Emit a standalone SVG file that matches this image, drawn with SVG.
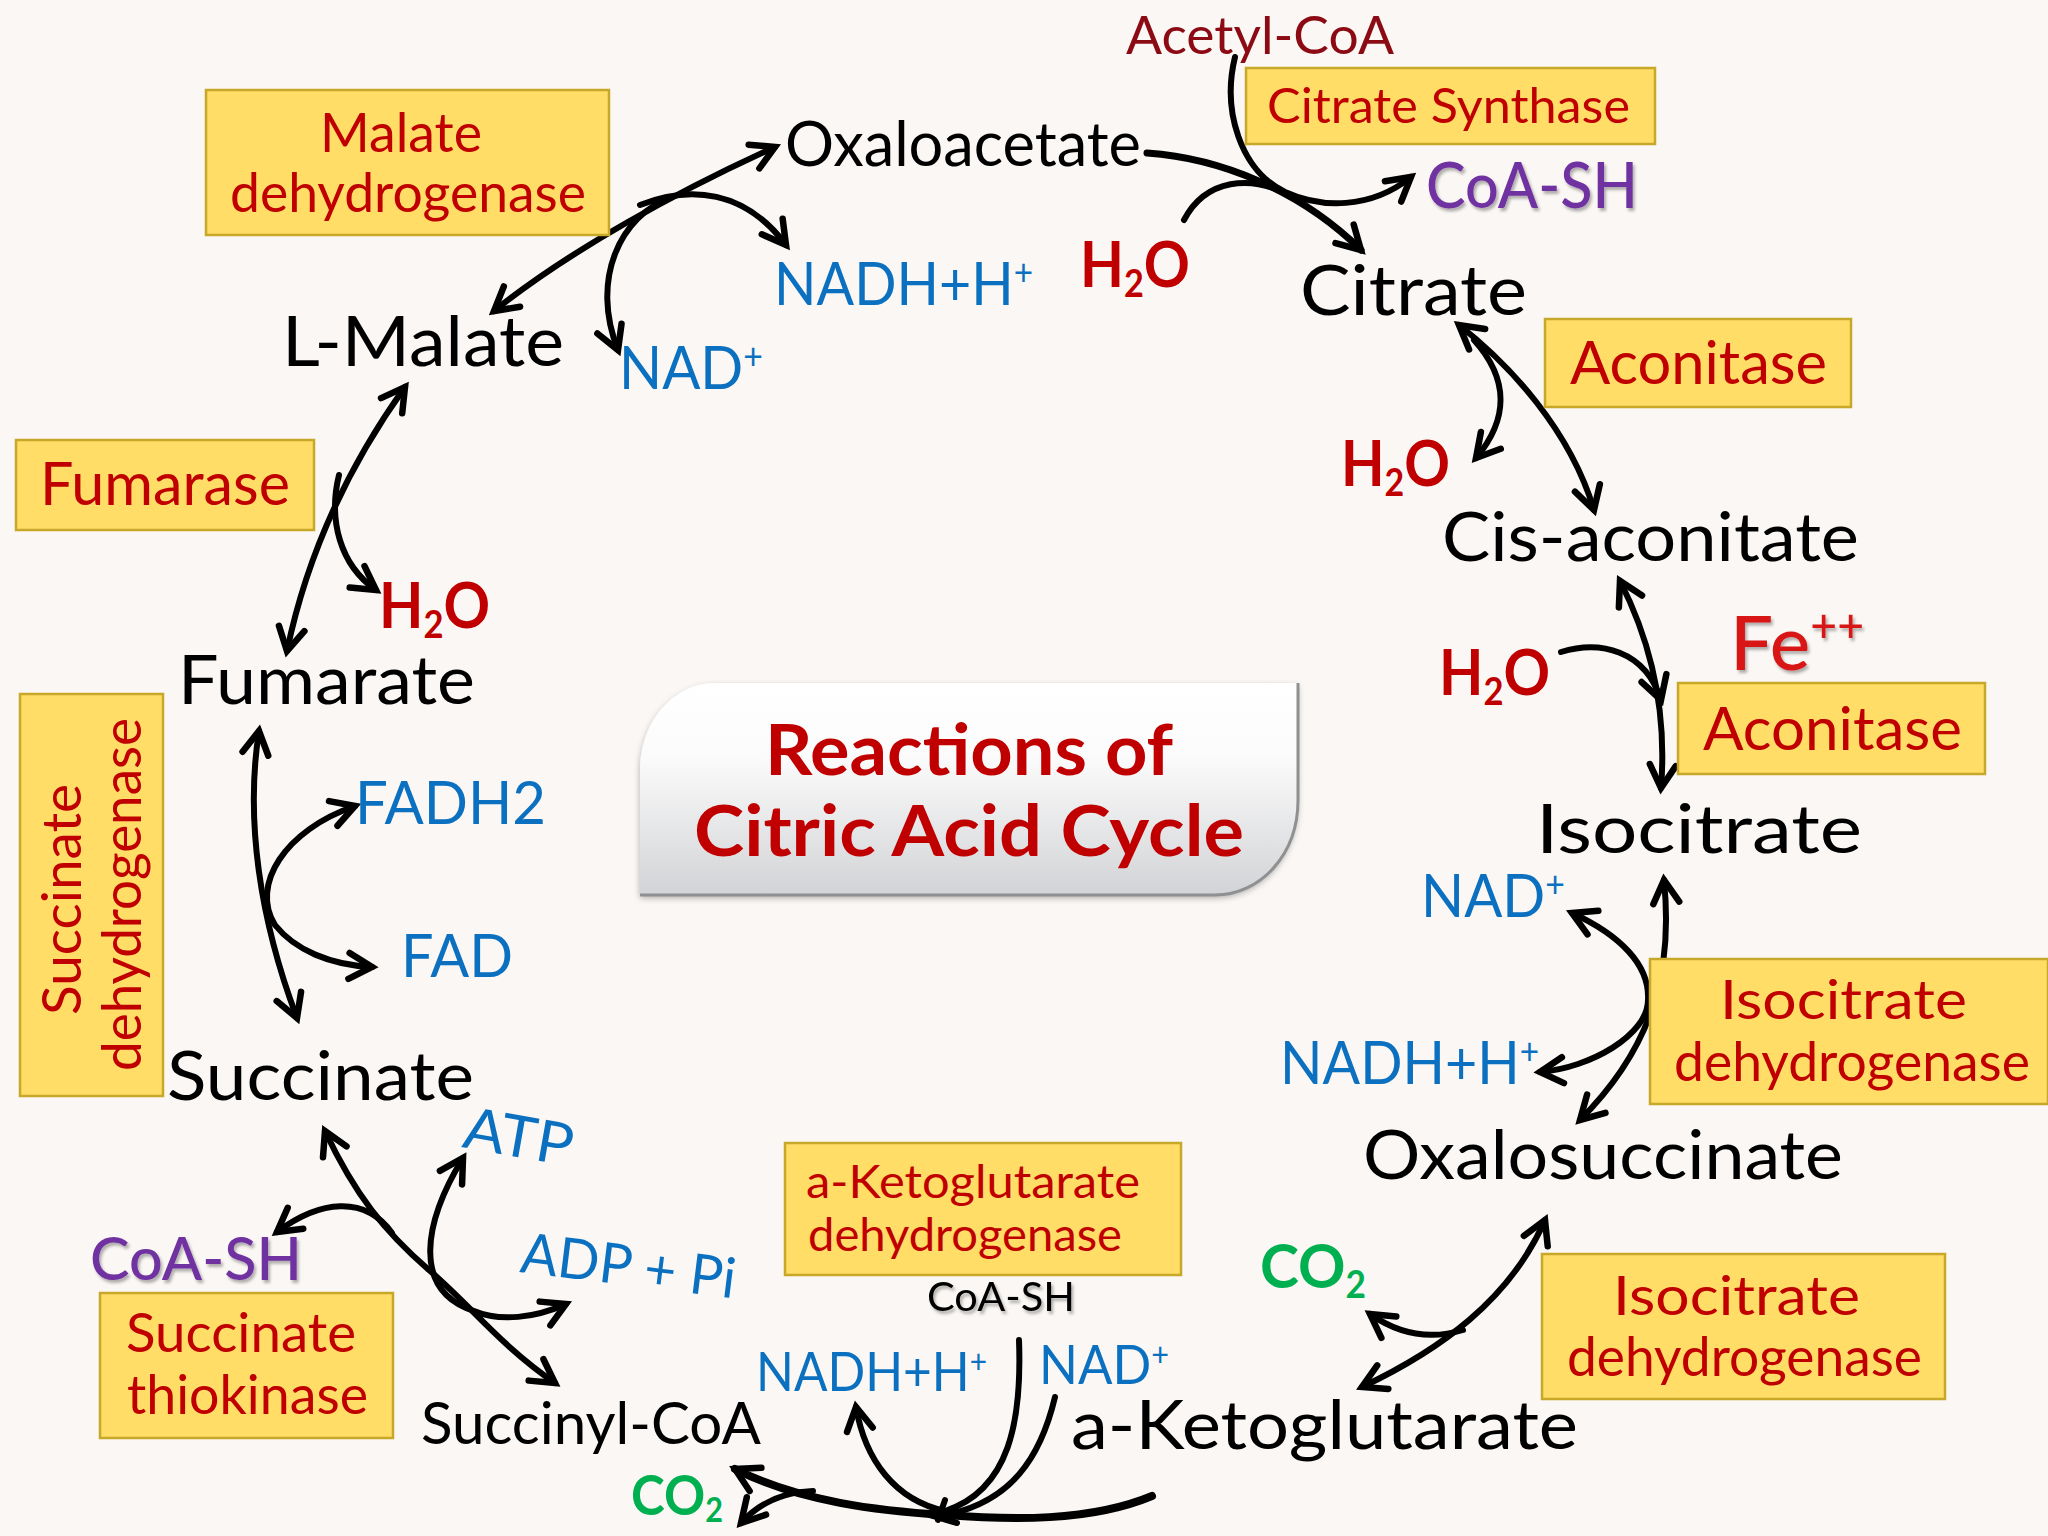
<svg xmlns="http://www.w3.org/2000/svg" width="2048" height="1536" viewBox="0 0 2048 1536">
<style>
text{font-family:"Lato","Noto Sans",sans-serif;white-space:pre}
.box{fill:#ffdd66;stroke:#c8a828;stroke-width:2.5}
.c{fill:none;stroke:#000;stroke-width:6;stroke-linecap:round;marker-end:url(#a)}
.both{marker-start:url(#s)}
.plain{marker-end:none}
.thick{stroke-width:8}
.k{fill:#000}.r{fill:#c00000}.b{fill:#0b70c0}.p{fill:#7030a0;filter:url(#ts)}.g{fill:#00b050;font-weight:700}.d{fill:#8b0a14}
.rb{fill:#c00000;font-weight:700}
.sm{font-size:.6em}
</style>
<defs>
<marker id="a" markerUnits="userSpaceOnUse" markerWidth="40" markerHeight="40" refX="30" refY="20" orient="auto"><path d="M7,7 L30,20 L7,33" fill="none" stroke="#000" stroke-width="6.5" stroke-linecap="round"/></marker>
<marker id="s" markerUnits="userSpaceOnUse" markerWidth="40" markerHeight="40" refX="10" refY="20" orient="auto"><path d="M33,7 L10,20 L33,33" fill="none" stroke="#000" stroke-width="6.5" stroke-linecap="round"/></marker>
<linearGradient id="tg" x1="0" y1="0" x2="0" y2="1"><stop offset="0" stop-color="#ffffff"/><stop offset=".35" stop-color="#fbfbfb"/><stop offset="1" stop-color="#d2d3d6"/></linearGradient>
<filter id="ts" x="-10%" y="-20%" width="120%" height="140%"><feDropShadow dx="2" dy="3" stdDeviation="1.5" flood-color="#000" flood-opacity=".3"/></filter>
<filter id="ps" x="-5%" y="-5%" width="110%" height="115%"><feDropShadow dx="0" dy="3" stdDeviation="3" flood-color="#000" flood-opacity=".3"/></filter>
</defs>
<rect id="background" width="2048" height="1536" fill="#faf7f4"/>

<g id="connectors">
<path class="c both" d="M494,311 C570,250 680,190 775,147"/>
<path class="c" d="M640,205 C690,185 745,190 786,245"/>
<path class="c" d="M672,197 C620,215 590,280 618,350"/>
<path class="c" style="stroke-width:7" d="M1147,153 C1220,158 1300,190 1361,250"/>
<path class="c" d="M1235,57 C1222,110 1240,170 1285,192 C1320,208 1370,210 1411,177"/>
<path class="c plain" d="M1184,220 C1205,180 1250,172 1295,198"/>
<path class="c both" d="M1459,325 C1510,365 1570,430 1594,510"/>
<path class="c" d="M1474,340 C1510,380 1508,420 1476,458"/>
<path class="c both" d="M1620,581 C1645,630 1668,700 1661,788"/>
<path class="c" d="M1561,652 C1600,640 1645,650 1661,700"/>
<path class="c both" d="M1664,880 C1672,960 1660,1040 1580,1120"/>
<path class="c both" d="M1572,913 C1620,935 1650,965 1648,1000 C1648,1035 1590,1068 1540,1072"/>
<path class="c both" d="M1545,1220 C1510,1300 1440,1350 1362,1387"/>
<path class="c" d="M1463,1330 C1430,1340 1400,1335 1370,1314"/>
<path class="c thick" d="M1152,1496 C1090,1522 1010,1520 945,1515 C880,1511 800,1502 735,1469"/>
<path class="c" d="M945,1511 C895,1500 865,1460 856,1407"/>
<path class="c plain" d="M1019,1340 C1022,1420 1010,1490 945,1511"/>
<path class="c plain" d="M1055,1397 C1040,1460 1010,1500 950,1514"/>
<path class="c plain" d="M930,1515 L957,1523 M945,1500 L938,1520"/>
<path class="c" d="M813,1491 C785,1492 760,1502 741,1523"/>
<path class="c both" d="M325,1131 C355,1195 385,1232 429,1270 S500,1345 555,1383"/>
<path class="c" d="M392,1233 C365,1195 320,1200 277,1232"/>
<path class="c both" d="M463,1158 C425,1220 410,1290 474,1311 C500,1322 535,1318 566,1304"/>
<path class="c both" d="M259,731 C245,820 260,920 297,1018"/>
<path class="c both" d="M355,806 C285,830 250,885 275,925 C295,950 330,965 372,967"/>
<path class="c both" d="M405,387 C360,450 310,540 287,651"/>
<path class="c" d="M339,475 C328,520 340,565 376,590"/>
</g>

<g id="title">
<path d="M640,895 L640,770 C640,720 675,683 715,683 L1298,683 L1298,800 C1298,855 1260,895 1215,895 Z" fill="url(#tg)" filter="url(#ps)"/>
<path d="M1298,683 L1298,800 C1298,855 1260,895 1215,895 L640,895" fill="none" stroke="#8f9092" stroke-width="3"/>
<text class="r" x="765" y="775" font-size="70" font-weight="700" textLength="408" lengthAdjust="spacingAndGlyphs">Reactions of</text>
<text class="r" x="694" y="856" font-size="70" font-weight="700" textLength="550" lengthAdjust="spacingAndGlyphs">Citric Acid Cycle</text>
</g>

<g id="enzyme-malate-dehydrogenase"><rect class="box" x="206" y="90" width="403" height="145"/>
<text class="r" x="320" y="152" font-size="54" textLength="162" lengthAdjust="spacingAndGlyphs">Malate</text>
<text class="r" x="230" y="212" font-size="54" textLength="356" lengthAdjust="spacingAndGlyphs">dehydrogenase</text></g>
<g id="enzyme-citrate-synthase"><rect class="box" x="1246" y="68" width="409" height="76"/>
<text class="r" x="1267" y="123" font-size="48" textLength="363" lengthAdjust="spacingAndGlyphs">Citrate Synthase</text></g>
<g id="enzyme-aconitase-1"><rect class="box" x="1545" y="319" width="306" height="88"/>
<text class="r" x="1570" y="384" font-size="60" textLength="257" lengthAdjust="spacingAndGlyphs">Aconitase</text></g>
<g id="enzyme-fumarase"><rect class="box" x="16" y="440" width="298" height="90"/>
<text class="r" x="40" y="505" font-size="60" textLength="250" lengthAdjust="spacingAndGlyphs">Fumarase</text></g>
<g id="enzyme-aconitase-2"><rect class="box" x="1678" y="683" width="307" height="91"/>
<text class="r" x="1703" y="750" font-size="60" textLength="259" lengthAdjust="spacingAndGlyphs">Aconitase</text></g>
<g id="enzyme-succinate-dehydrogenase"><rect class="box" x="20" y="694" width="143" height="402"/>
<text class="r" transform="translate(81,1015) rotate(-90)" font-size="54" textLength="231" lengthAdjust="spacingAndGlyphs">Succinate</text>
<text class="r" transform="translate(141,1071) rotate(-90)" font-size="54" textLength="353" lengthAdjust="spacingAndGlyphs">dehydrogenase</text></g>
<g id="enzyme-isocitrate-dehydrogenase-1"><rect class="box" x="1650" y="959" width="398" height="145"/>
<text class="r" x="1720" y="1019" font-size="54" textLength="247" lengthAdjust="spacingAndGlyphs">Isocitrate</text>
<text class="r" x="1674" y="1081" font-size="54" textLength="356" lengthAdjust="spacingAndGlyphs">dehydrogenase</text></g>
<g id="enzyme-isocitrate-dehydrogenase-2"><rect class="box" x="1542" y="1254" width="403" height="145"/>
<text class="r" x="1613" y="1315" font-size="54" textLength="247" lengthAdjust="spacingAndGlyphs">Isocitrate</text>
<text class="r" x="1567" y="1376" font-size="54" textLength="355" lengthAdjust="spacingAndGlyphs">dehydrogenase</text></g>
<g id="enzyme-ketoglutarate-dehydrogenase"><rect class="box" x="785" y="1143" width="396" height="132"/>
<text class="r" x="806" y="1198" font-size="46" textLength="334" lengthAdjust="spacingAndGlyphs">a-Ketoglutarate</text>
<text class="r" x="808" y="1251" font-size="46" textLength="314" lengthAdjust="spacingAndGlyphs">dehydrogenase</text></g>
<g id="enzyme-succinate-thiokinase"><rect class="box" x="100" y="1293" width="293" height="145"/>
<text class="r" x="126" y="1352" font-size="54" textLength="230" lengthAdjust="spacingAndGlyphs">Succinate</text>
<text class="r" x="127" y="1414" font-size="54" textLength="241" lengthAdjust="spacingAndGlyphs">thiokinase</text></g>

<g id="node-oxaloacetate"><text class="k" x="785" y="166" font-size="62" textLength="356" lengthAdjust="spacingAndGlyphs">Oxaloacetate</text></g>
<g id="node-citrate"><text class="k" x="1300" y="315" font-size="70" textLength="227" lengthAdjust="spacingAndGlyphs">Citrate</text></g>
<g id="node-cis-aconitate"><text class="k" x="1442" y="561" font-size="68" textLength="417" lengthAdjust="spacingAndGlyphs">Cis-aconitate</text></g>
<g id="node-isocitrate"><text class="k" x="1536" y="853" font-size="68" textLength="326" lengthAdjust="spacingAndGlyphs">Isocitrate</text></g>
<g id="node-oxalosuccinate"><text class="k" x="1363" y="1179" font-size="68" textLength="480" lengthAdjust="spacingAndGlyphs">Oxalosuccinate</text></g>
<g id="node-ketoglutarate"><text class="k" x="1071" y="1449" font-size="68" textLength="507" lengthAdjust="spacingAndGlyphs">a-Ketoglutarate</text></g>
<g id="node-succinyl-coa"><text class="k" x="421" y="1444" font-size="58" textLength="340" lengthAdjust="spacingAndGlyphs">Succinyl-CoA</text></g>
<g id="node-succinate"><text class="k" x="167" y="1100" font-size="68" textLength="307" lengthAdjust="spacingAndGlyphs">Succinate</text></g>
<g id="node-fumarate"><text class="k" x="178" y="704" font-size="68" textLength="297" lengthAdjust="spacingAndGlyphs">Fumarate</text></g>
<g id="node-l-malate"><text class="k" x="282" y="366" font-size="70" textLength="282" lengthAdjust="spacingAndGlyphs">L-Malate</text></g>

<g id="cofactors">
<text class="d" x="1126" y="54" font-size="52" textLength="268" lengthAdjust="spacingAndGlyphs">Acetyl-CoA</text>
<text class="p" x="1426" y="208" font-size="64" font-weight="500" textLength="212" lengthAdjust="spacingAndGlyphs">CoA-SH</text>
<text class="b" x="774" y="305" font-size="60" textLength="259" lengthAdjust="spacingAndGlyphs">NADH+H<tspan class="sm" dy="-20">+</tspan></text>
<text class="rb" x="1080" y="287" font-size="64" textLength="110" lengthAdjust="spacingAndGlyphs">H<tspan class="sm" dy="10">2</tspan><tspan dy="-10">O</tspan></text>
<text class="b" x="619" y="389" font-size="60" textLength="144" lengthAdjust="spacingAndGlyphs">NAD<tspan class="sm" dy="-20">+</tspan></text>
<text class="rb" x="1341" y="486" font-size="64" textLength="109" lengthAdjust="spacingAndGlyphs">H<tspan class="sm" dy="10">2</tspan><tspan dy="-10">O</tspan></text>
<text class="rb" x="379" y="628" font-size="64" textLength="111" lengthAdjust="spacingAndGlyphs">H<tspan class="sm" dy="10">2</tspan><tspan dy="-10">O</tspan></text>
<text class="rb" x="1439" y="695" font-size="64" textLength="111" lengthAdjust="spacingAndGlyphs">H<tspan class="sm" dy="10">2</tspan><tspan dy="-10">O</tspan></text>
<text x="1730" y="670" font-size="76" font-weight="500" fill="#d81818" textLength="134" lengthAdjust="spacingAndGlyphs" style="filter:url(#ts)">Fe<tspan dy="-28" font-size="46">++</tspan></text>
<text class="b" x="1421" y="917" font-size="60" textLength="144" lengthAdjust="spacingAndGlyphs">NAD<tspan class="sm" dy="-20">+</tspan></text>
<text class="b" x="1280" y="1084" font-size="60" textLength="259" lengthAdjust="spacingAndGlyphs">NADH+H<tspan class="sm" dy="-20">+</tspan></text>
<text class="b" x="355" y="824" font-size="60" textLength="191" lengthAdjust="spacingAndGlyphs">FADH2</text>
<text class="b" x="401" y="977" font-size="60" textLength="112" lengthAdjust="spacingAndGlyphs">FAD</text>
<text class="b" transform="translate(461,1147) rotate(10)" font-size="58" textLength="110" lengthAdjust="spacingAndGlyphs">ATP</text>
<text class="b" transform="translate(519,1272) rotate(7)" font-size="56" textLength="216" lengthAdjust="spacingAndGlyphs">ADP + Pi</text>
<text class="p" x="90" y="1280" font-size="60" font-weight="500" textLength="212" lengthAdjust="spacingAndGlyphs">CoA-SH</text>
<text class="g" x="1260" y="1288" font-size="62" textLength="106" lengthAdjust="spacingAndGlyphs">CO<tspan class="sm" dy="10">2</tspan></text>
<text class="k" x="927" y="1311" font-size="40" textLength="148" lengthAdjust="spacingAndGlyphs" style="filter:url(#ts)">CoA-SH</text>
<text class="b" x="756" y="1391" font-size="54" textLength="231" lengthAdjust="spacingAndGlyphs">NADH+H<tspan class="sm" dy="-18">+</tspan></text>
<text class="b" x="1039" y="1384" font-size="54" textLength="130" lengthAdjust="spacingAndGlyphs">NAD<tspan class="sm" dy="-18">+</tspan></text>
<text class="g" x="631" y="1515" font-size="56" textLength="92" lengthAdjust="spacingAndGlyphs">CO<tspan class="sm" dy="7">2</tspan></text>
</g>
</svg>
